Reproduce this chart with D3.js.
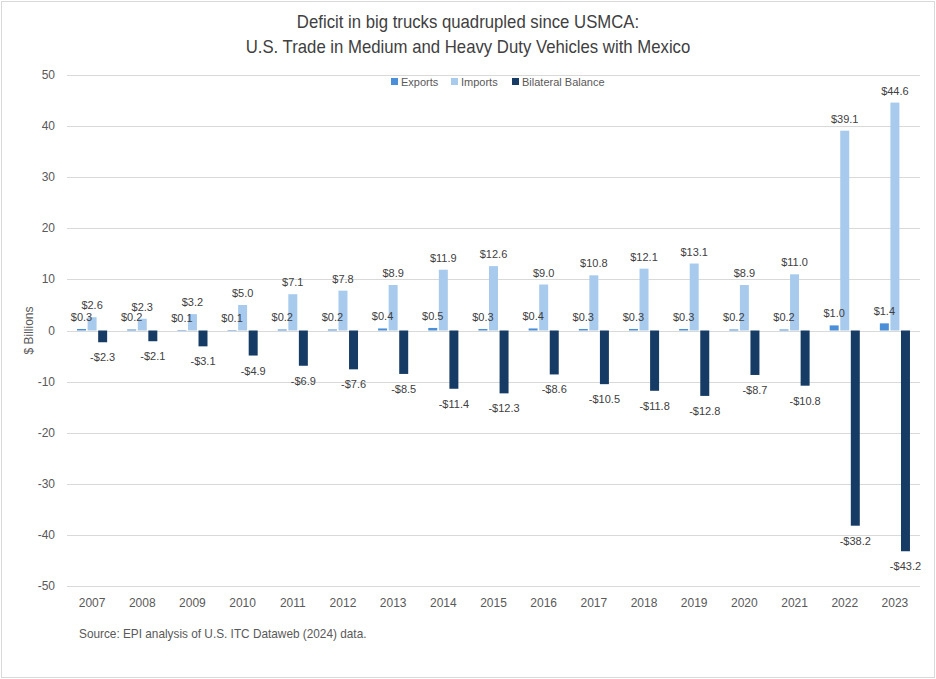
<!DOCTYPE html>
<html lang="en">

<head>
  <meta charset="UTF-8">
  <title>Deficit in big trucks quadrupled since USMCA</title>
  <script src="https://d3js.org/d3.v7.min.js"></script>
  <style>
    body {
      margin: 0;
      background: #fff;
      font-family: "Liberation Sans", Arial, sans-serif;
    }

    .grid line {
      stroke: #d9d9d9;
      stroke-width: 1px;
    }

    .tick-label {
      font-size: 12px;
      fill: #595959;
    }

    .bar-label {
      font-size: 11px;
      fill: #404040;
    }
  </style>
</head>

<body>
  <div id="chart"></div>

  <script>
    const years = ["2007", "2008", "2009", "2010", "2011", "2012", "2013", "2014", "2015",
      "2016", "2017", "2018", "2019", "2020", "2021", "2022", "2023"];
    const exportsVals = [0.3, 0.2, 0.1, 0.1, 0.2, 0.2, 0.4, 0.5, 0.3, 0.4, 0.3, 0.3, 0.3, 0.2, 0.2, 1.0, 1.4];
    const importsVals = [2.6, 2.3, 3.2, 5.0, 7.1, 7.8, 8.9, 11.9, 12.6, 9.0, 10.8, 12.1, 13.1, 8.9, 11.0, 39.1, 44.6];
    const balanceVals = [-2.3, -2.1, -3.1, -4.9, -6.9, -7.6, -8.5, -11.4, -12.3, -8.6, -10.5, -11.8, -12.8, -8.7, -10.8, -38.2, -43.2];
    const seriesNames = ["Exports", "Imports", "Bilateral Balance"];
    const seriesColors = ["#4a8fd8", "#a8caec", "#163b64"];
    const yTicks = [50, 40, 30, 20, 10, 0, -10, -20, -30, -40, -50];

    const W = 936, H = 679;
    const margin = { top: 75, right: 16, bottom: 93, left: 67 };
    const width = W - margin.left - margin.right;
    const height = H - margin.top - margin.bottom;

    const root = d3.select("#chart")
      .append("svg")
      .attr("width", W)
      .attr("height", H);

    // outer frame
    root.append("rect")
      .attr("x", 1.5).attr("y", 1.5)
      .attr("width", W - 3).attr("height", H - 3)
      .attr("fill", "#fff")
      .attr("stroke", "#d9d9d9");

    // title (no narrow font installed, so squeeze a regular one a little)
    const title = root.append("g")
      .attr("transform", `translate(${W / 2},0) scale(0.93,1)`)
      .append("text")
      .attr("text-anchor", "middle")
      .attr("font-size", "18px")
      .attr("fill", "#404040");
    title.append("tspan").attr("x", 0).attr("y", 28).text("Deficit in big trucks quadrupled since USMCA:");
    title.append("tspan").attr("x", 0).attr("y", 53).text("U.S. Trade in Medium and Heavy Duty Vehicles with Mexico");

    const svg = root.append("g")
      .attr("transform", `translate(${margin.left},${margin.top})`);

    const y = d3.scaleLinear().domain([-50, 50]).range([height, 0]);
    const x0 = d3.scaleBand().domain(years).range([0, width]).paddingInner(0).paddingOuter(0);
    const x1 = d3.scaleBand().domain(seriesNames).range([x0.bandwidth() * 0.2, x0.bandwidth() * 0.8]).paddingInner(0.15);

    // gridlines
    svg.append("g")
      .attr("class", "grid")
      .selectAll("line")
      .data(yTicks)
      .enter().append("line")
      .attr("x1", 0).attr("x2", width)
      .attr("y1", d => Math.round(y(d)) + 0.5)
      .attr("y2", d => Math.round(y(d)) + 0.5);

    // y axis labels
    svg.append("g")
      .selectAll("text")
      .data(yTicks)
      .enter().append("text")
      .attr("class", "tick-label")
      .attr("x", -12)
      .attr("y", d => y(d) + 4)
      .attr("text-anchor", "end")
      .text(d => d);

    // x axis labels
    svg.append("g")
      .selectAll("text")
      .data(years)
      .enter().append("text")
      .attr("class", "tick-label")
      .attr("x", d => x0(d) + x0.bandwidth() / 2)
      .attr("y", height + 21)
      .attr("text-anchor", "middle")
      .text(d => d);

    // y axis title
    svg.append("text")
      .attr("transform", "rotate(-90)")
      .attr("x", -y(0))
      .attr("y", -34)
      .attr("text-anchor", "middle")
      .attr("font-size", "12px")
      .attr("fill", "#595959")
      .text("$ Billions");

    const allSeries = [exportsVals, importsVals, balanceVals];
    const rows = years.map((yr, i) => seriesNames.map((name, s) => ({
      year: yr, name: name, value: allSeries[s][i], color: seriesColors[s]
    })));

    const groups = svg.selectAll(".year")
      .data(rows)
      .enter().append("g")
      .attr("class", "year")
      .attr("transform", (d, i) => `translate(${x0(years[i])},0)`);

    groups.selectAll("rect")
      .data(d => d)
      .enter().append("rect")
      .attr("x", d => x1(d.name))
      .attr("width", x1.bandwidth())
      .attr("y", d => y(Math.max(0, d.value)))
      .attr("height", d => Math.abs(y(d.value) - y(0)))
      .attr("fill", d => d.color);

    const fmt = v => (v < 0 ? "-$" : "$") + Math.abs(v).toFixed(1);

    groups.selectAll(".bar-label")
      .data(d => d)
      .enter().append("text")
      .attr("class", "bar-label")
      .attr("text-anchor", "middle")
      .attr("x", d => x1(d.name) + x1.bandwidth() / 2)
      .attr("y", d => d.value >= 0 ? y(d.value) - 8 : y(d.value) + 19)
      .text(d => fmt(d.value));

    // legend
    const legendX = [391, 451, 512];
    const legend = root.append("g")
      .selectAll("g")
      .data(seriesNames)
      .enter().append("g")
      .attr("transform", (d, i) => `translate(${legendX[i]},82)`);

    legend.append("rect")
      .attr("x", 0).attr("y", -4)
      .attr("width", 7).attr("height", 7)
      .attr("fill", (d, i) => seriesColors[i]);

    legend.append("text")
      .attr("x", 10)
      .attr("y", 4)
      .attr("font-size", "11px")
      .attr("fill", "#595959")
      .text(d => d);

    // source note
    root.append("g")
      .attr("transform", "translate(79,638) scale(0.91,1)")
      .append("text")
      .attr("font-size", "13px")
      .attr("fill", "#595959")
      .text("Source: EPI analysis of U.S. ITC Dataweb (2024) data.");
  </script>
</body>

</html>
